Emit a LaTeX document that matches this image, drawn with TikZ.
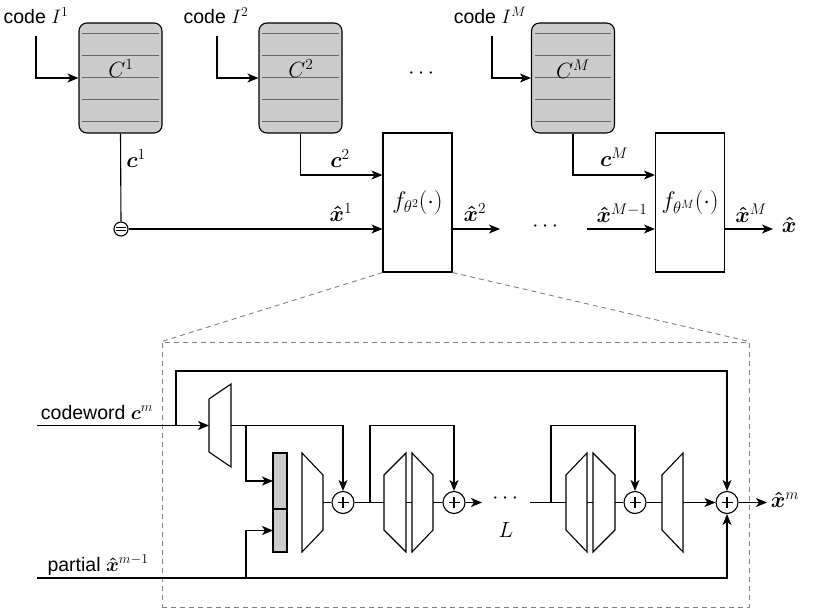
\RequirePackage{fix-cm}
\documentclass[tikz,border=0pt]{standalone}
\usepackage[no-math]{fontspec}
\setmainfont{Liberation Sans}
\usepackage{amsmath,bm}
\usetikzlibrary{arrows.meta,calc}
\newcommand\expandblk[2]{\draw ([yshift=#2]#1.south west) -- ([yshift=-#2]#1.north west) -- (#1.north east) -- (#1.south east) -- cycle;}
\newcommand\contractblk[2]{\draw (#1.south west) -- (#1.north west) -- ([yshift=-#2]#1.north east) -- ([yshift=#2]#1.south east) -- cycle;}
\begin{document}
\begin{tikzpicture}[x=1pt,y=-1pt,line width=1.1pt,
  >={Stealth[length=11pt,width=9pt,inset=3pt]},
  font=\fontsize{19.5}{22}\selectfont,
  cbook/.style={draw,fill=gray!40,rounded corners=8pt,minimum width=83pt,minimum height=110pt,inner sep=0pt},
  fblock/.style={draw,fill=white,minimum width=69pt,minimum height=139pt,inner sep=0pt,font=\fontsize{24}{26}\selectfont},
  blk/.style={inner sep=0pt,outer sep=0pt,minimum height=99pt},
  barbox/.style={draw,fill=gray!40,minimum width=14pt,inner sep=0pt,outer sep=0pt},
  plus/.style={draw,circle,fill=white,minimum size=22pt,inner sep=0pt,
    path picture={\draw[line width=1.9pt] ([xshift=-5.5pt]path picture bounding box.center) -- ([xshift=5.5pt]path picture bounding box.center);
                  \draw[line width=1.9pt] ([yshift=-5.5pt]path picture bounding box.center) -- ([yshift=5.5pt]path picture bounding box.center);}},
  zoomline/.style={draw=black!50,line width=0.9pt,dash pattern=on 5pt off 4pt},
  bigm/.style={font=\fontsize{22}{24}\selectfont},
  mlbl/.style={font=\fontsize{22}{24}\selectfont}]
\useasboundingbox (0,0) rectangle (813,609);
% ---------- top row ----------
\node[cbook] (C1) at (120.5,78) {};
\node[cbook] (C2) at (300.5,78) {};
\node[cbook] (CM) at (573,78) {};
\foreach \c in {C1,C2,CM}{
  \foreach \k in {0,...,4}{
    \pgfmathsetmacro\dy{11+22*\k}
    \draw[black!60,line width=0.9pt] ([xshift=4pt,yshift=-\dy pt]\c.north west) -- ([xshift=-4pt,yshift=-\dy pt]\c.north east);
  }
}
\node[bigm] (LC1) at (121,69) {$C^1$};
\node[bigm] (LC2) at (301,69) {$C^2$};
\node[bigm] (LCM) at (573,69) {$C^M$};
\node[anchor=base] (tI1) at (36,24) {code $I^1$};
\node[anchor=base] (tI2) at (216,24) {code $I^2$};
\node[anchor=base] (tIM) at (490,24) {code $I^M$};
\coordinate (a1) at (36,36);
\coordinate (a2) at (217,36);
\coordinate (aM) at (492,36);
\draw[->] (a1) |- (C1.west);
\draw[->] (a2) |- (C2.west);
\draw[->] (aM) |- (CM.west);
\node[mlbl] (dotsA) at (423,74) {$\cdots$};
\node[fblock] (F2) at (417.5,202.5) {$f_{\theta^2}(\cdot)$};
\node[fblock] (FM) at (690,202.5) {$f_{\theta^M}(\cdot)$};
\node[draw,circle,minimum size=14pt,inner sep=0pt,fill=white] (eq) at (121,229) {};
\draw[line width=0.9pt] ([xshift=-5pt,yshift=1.7pt]eq.center) -- ++(10pt,0);
\draw[line width=0.9pt] ([xshift=-5pt,yshift=-1.7pt]eq.center) -- ++(10pt,0);
\draw (C1.south) -- (eq.north);
\draw[->] (eq.east) -- (eq.east -| F2.west);
\coordinate (c2y) at (0,175);
\draw[->] (C2.south) |- (c2y -| F2.west);
\draw[->] (CM.south) |- (c2y -| FM.west);
\coordinate (x2end) at (500,229);
\draw[->] (eq -| F2.east) -- (x2end);
\node[mlbl] (dotsB) at (547,227) {$\cdots$};
\coordinate (xMs) at (587,229);
\draw[->] (xMs) -- (xMs -| FM.west);
\node[mlbl,inner sep=1pt] (xhat) at (789,225) {$\bm{\hat{x}}$};
\draw[->] (eq -| FM.east) -- (773,229);
\node[mlbl] (lc1) at (136,159) {$\bm{c}^1$};
\node[mlbl] (lc2) at (340,159) {$\bm{c}^2$};
\node[mlbl] (lcM) at (614,157) {$\bm{c}^M$};
\node[mlbl] (lx1) at (341,213) {$\bm{\hat{x}}^1$};
\node[mlbl] (lx2) at (475,213) {$\bm{\hat{x}}^2$};
\node[mlbl] (lxM1) at (622,213) {$\bm{\hat{x}}^{M-1}$};
\node[mlbl] (lxM) at (751,213) {$\bm{\hat{x}}^M$};
% ---------- zoom ----------
\node[zoomline,minimum width=587pt,minimum height=265pt,inner sep=0pt] (ZB) at (455.5,474.5) {};
\draw[zoomline] (F2.south west) -- (ZB.north west);
\draw[zoomline] (F2.south east) -- (ZB.north east);
% ---------- detail ----------
\node[blk,minimum width=22pt,minimum height=83pt] (T1) at (220,425.5) {};
\expandblk{T1}{15pt}
\node[barbox,minimum height=56pt] (BT) at (280,481) {};
\node[barbox,minimum height=43pt] (BB) at (280,530.5) {};
\node[blk,minimum width=21pt] (T2) at (312.5,502.5) {};
\contractblk{T2}{22pt}
\node[plus] (P1) at (343,502.5) {};
\node[blk,minimum width=22pt] (T3) at (395,502.5) {};
\expandblk{T3}{22pt}
\node[blk,minimum width=21pt] (T4) at (422.5,502.5) {};
\contractblk{T4}{22pt}
\node[plus] (P2) at (454,502.5) {};
\node[mlbl] (dotsC) at (507,499) {$\cdots$};
\node[mlbl] (L) at (506,530) {$L$};
\node[blk,minimum width=21pt] (T5) at (576.5,502.5) {};
\expandblk{T5}{22pt}
\node[blk,minimum width=22pt] (T6) at (604,502.5) {};
\contractblk{T6}{22pt}
\node[plus] (P3) at (635,502.5) {};
\node[blk,minimum width=21pt] (T7) at (672.5,502.5) {};
\expandblk{T7}{22pt}
\node[plus] (P4) at (727,502.5) {};
\node[mlbl,anchor=west] (xm) at (767,500) {$\bm{\hat{x}}^m$};
\node[anchor=base] (tcw) at (97,419) {codeword $\bm{c}^m$};
\node[anchor=base] (tpa) at (98,571) {partial $\bm{\hat{x}}^{m-1}$};
\coordinate (cwin) at (37,425.5);
\draw[->] (cwin) -- (T1.west);
\coordinate (sk) at (176,425.5);
\coordinate (skt) at (176,371);
\draw[->] (sk) -- (skt) -| (P4.north);
\draw[->] (T1.east) -| (P1.north);
\coordinate (b1) at (246,425.5);
\draw[->] (b1) |- (BT.west);
\coordinate (pin) at (37,578);
\draw[->] (pin) -| (P4.south);
\coordinate (b2) at (246,578);
\draw[->] (b2) |- (BB.west);
\draw (T2.east) -- (P1.west);
\draw (P1.east) -- (T3.west);
\coordinate (b3) at (370,502.5);
\coordinate (b3t) at (370,425.5);
\draw[->] (b3) -- (b3t) -| (P2.north);
\draw (T3.east) -- (T4.west);
\draw (T4.east) -- (P2.west);
\coordinate (d1) at (482,502.5);
\draw[->] (P2.east) -- (d1);
\coordinate (d2) at (530,502.5);
\draw (d2) -- (T5.west);
\coordinate (b4) at (551,502.5);
\coordinate (b4t) at (551,425.5);
\draw[->] (b4) -- (b4t) -| (P3.north);
\draw (T5.east) -- (T6.west);
\draw (T6.east) -- (P3.west);
\draw (P3.east) -- (T7.west);
\draw[->] (T7.east) -- (P4.west);
\draw[->] (P4.east) -- (P4.east -| xm.west);
\end{tikzpicture}
\end{document}
